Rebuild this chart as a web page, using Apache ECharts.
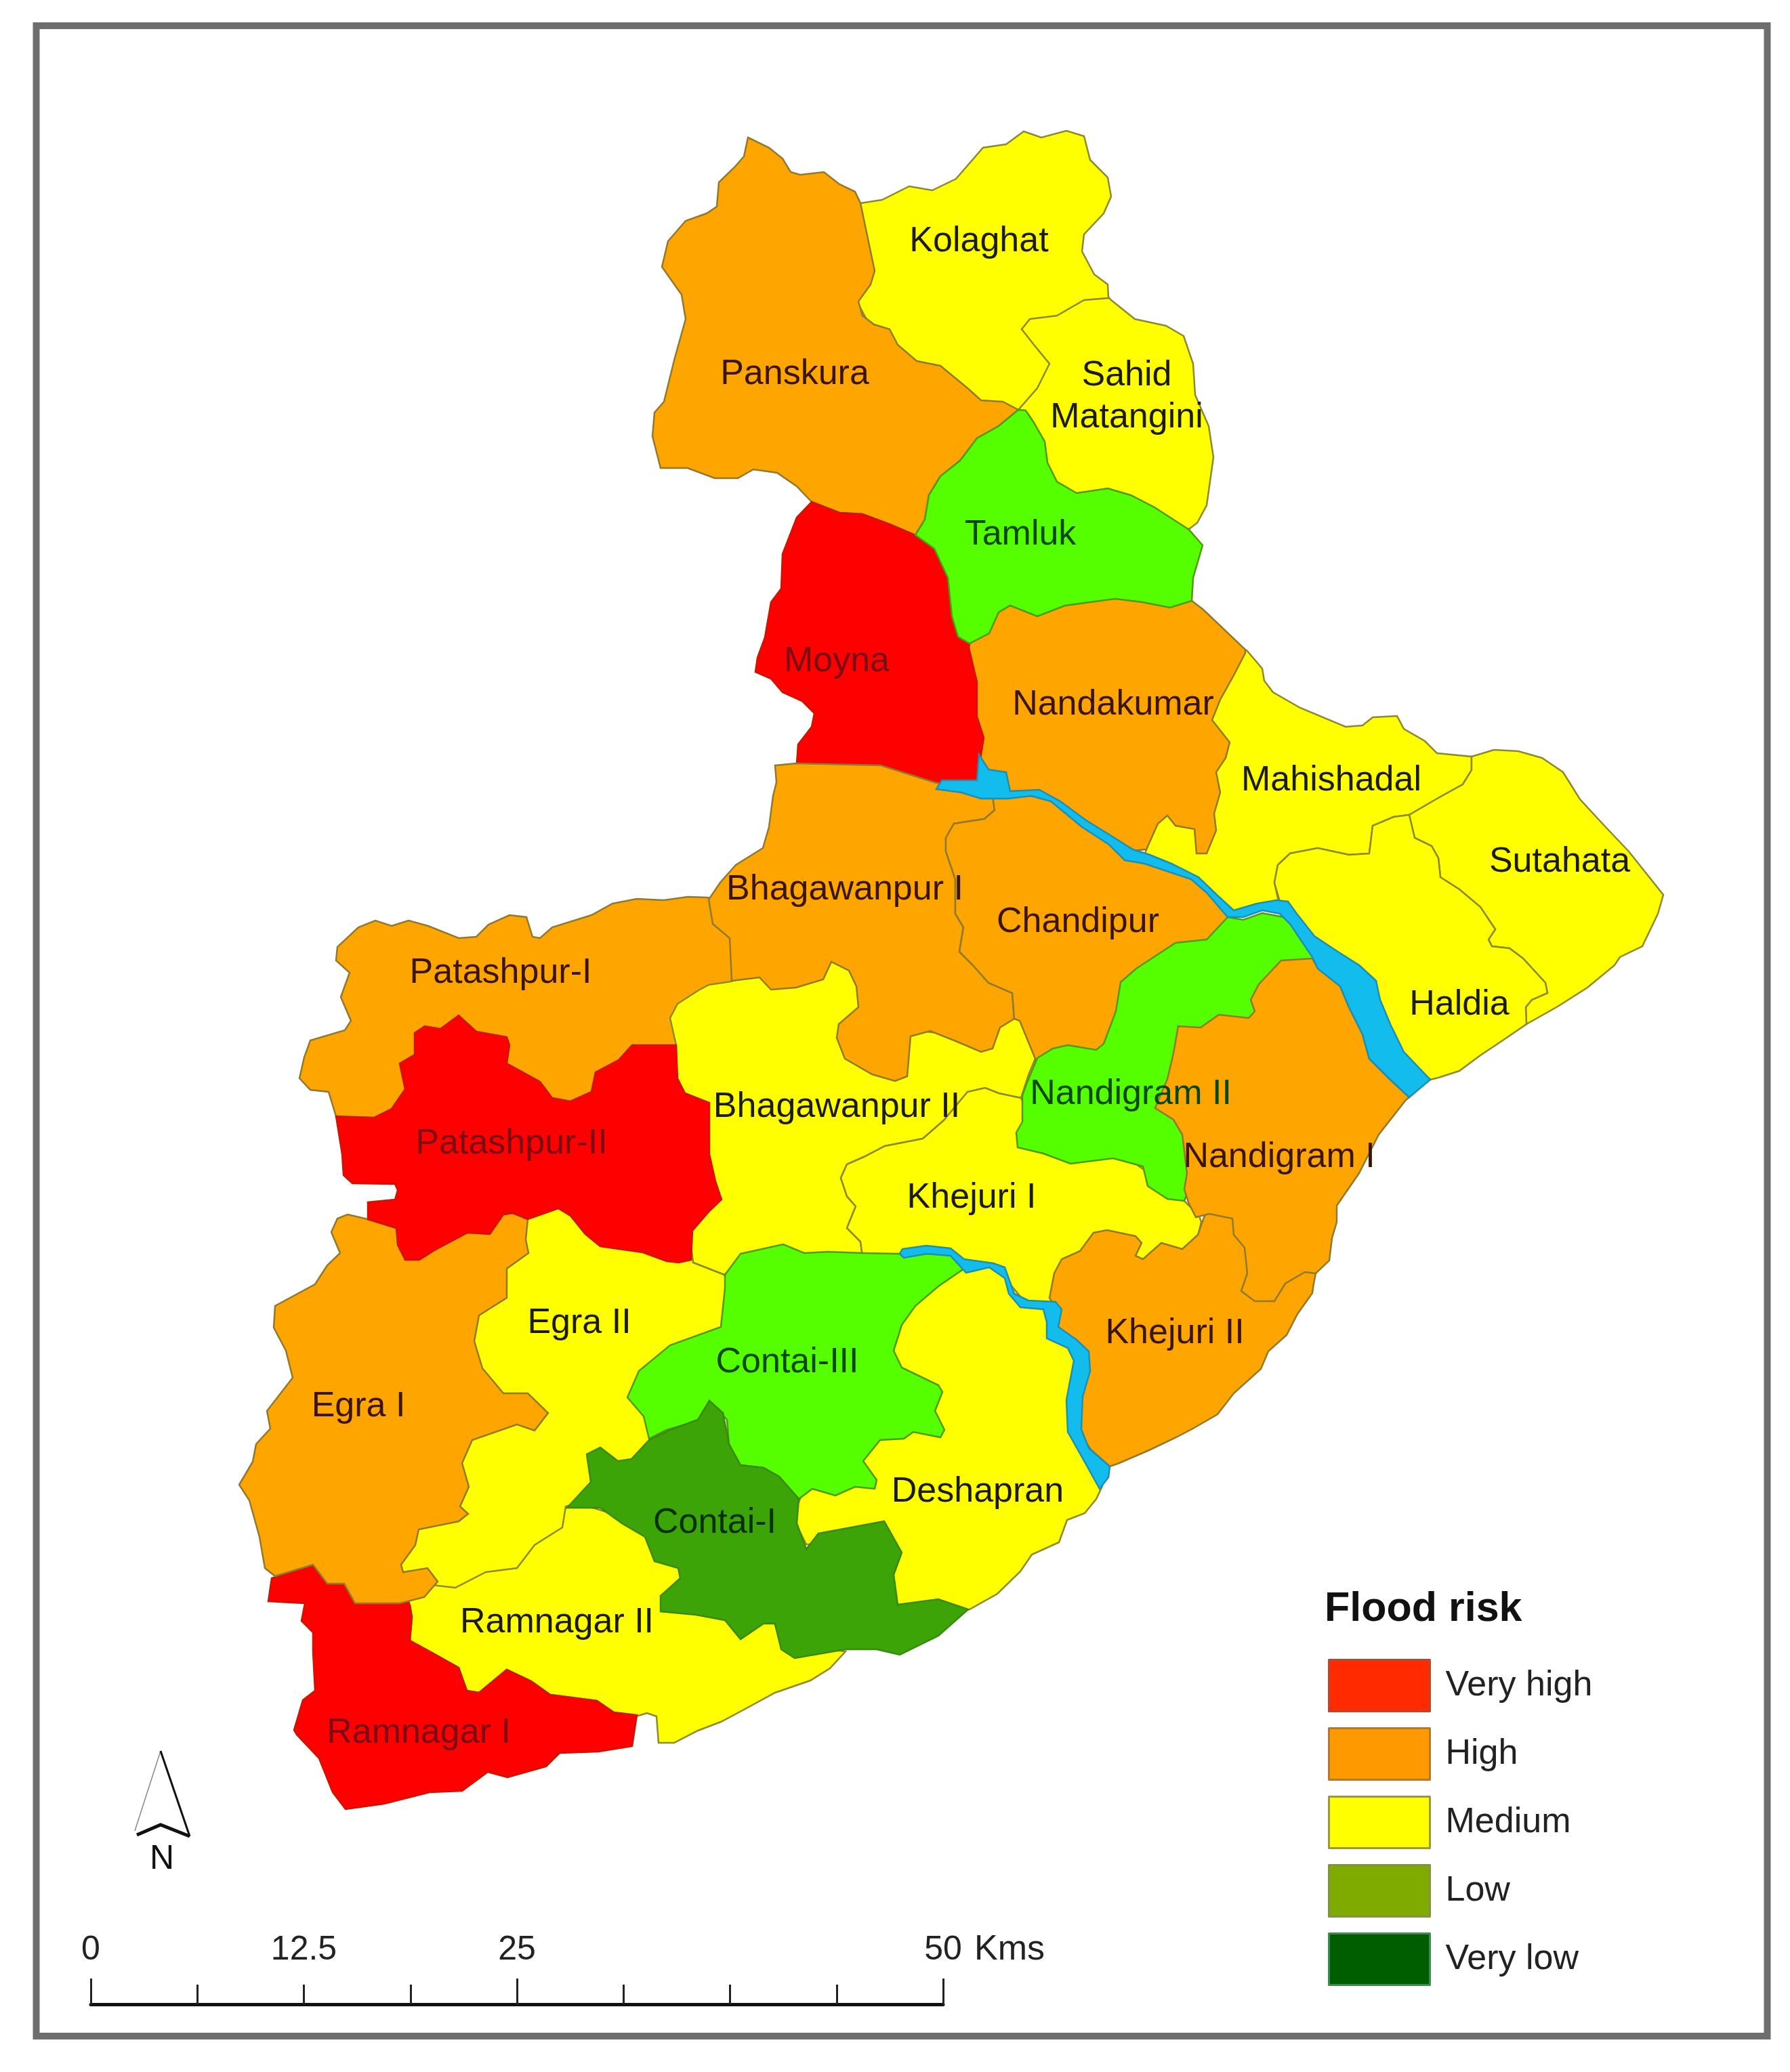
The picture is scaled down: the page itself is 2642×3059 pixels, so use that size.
<!DOCTYPE html>
<html>
<head>
<meta charset="utf-8">
<title>Flood risk</title>
<script src="https://cdn.jsdelivr.net/npm/echarts@6/dist/echarts.min.js"></script>
<style>
html,body{margin:0;padding:0;background:#fff}
#chart{width:2642px;height:3059px}
</style>
</head>
<body>
<div id="chart"></div>
<script>
// block outlines. later blocks are painted over earlier ones
var sahid = [[1640,443],[1675,471],[1721,481],[1747,496],[1761,537],[1764,583],[1784,629],[1791,675],[1781,746],[1767,772],[1755,781],[1700,770],[1600,750],[1530,690],[1490,600],[1500,490],[1550,440],[1620,420]];
var kolaghat = [[1270,300],[1302,295],[1342,275],[1376,281],[1411,264],[1451,218],[1485,213],[1511,194],[1537,203],[1574,193],[1600,201],[1609,236],[1635,262],[1640,290],[1629,315],[1600,346],[1597,371],[1615,405],[1635,420],[1636,440],[1600,443],[1560,466],[1520,471],[1508,486],[1526,509],[1549,537],[1531,573],[1503,605],[1470,610],[1380,560],[1300,510],[1262,440],[1280,400],[1270,345],[1265,300]];
var panskura = [[1104,203],[1135,218],[1155,234],[1167,254],[1181,258],[1216,254],[1239,272],[1262,283],[1270,300],[1279,343],[1291,400],[1285,420],[1267,445],[1273,466],[1290,479],[1313,486],[1325,509],[1353,533],[1388,540],[1428,573],[1448,591],[1480,593],[1503,605],[1474,629],[1442,647],[1417,680],[1388,703],[1371,731],[1365,767],[1351,790],[1313,774],[1273,759],[1239,757],[1198,741],[1176,718],[1147,698],[1112,693],[1089,706],[1055,706],[1015,691],[975,691],[963,644],[966,609],[980,593],[995,532],[1012,471],[1006,435],[977,394],[986,356],[1012,326],[1043,315],[1058,305],[1061,269],[1084,247],[1098,231]];
var mahishadal = [[1840,960],[1863,987],[1866,1005],[1879,1022],[1919,1045],[1986,1073],[2011,1071],[2026,1059],[2062,1057],[2072,1076],[2103,1094],[2121,1112],[2172,1117],[2172,1137],[2159,1158],[2123,1178],[2080,1203],[2057,1206],[2026,1219],[2021,1260],[1991,1262],[1945,1252],[1904,1260],[1886,1277],[1881,1303],[1889,1340],[1853,1345],[1812,1350],[1766,1310],[1700,1275],[1690,1260],[1730,1150],[1780,1050],[1810,965]];
var nandakumar = [[1750,880],[1776,900],[1838,959],[1838,964],[1821,997],[1801,1033],[1789,1063],[1815,1096],[1809,1119],[1795,1140],[1801,1170],[1792,1201],[1795,1226],[1781,1260],[1766,1260],[1763,1224],[1735,1219],[1723,1204],[1709,1216],[1692,1254],[1660,1257],[1603,1216],[1551,1178],[1499,1175],[1459,1155],[1430,1100],[1420,950],[1440,900],[1600,880]];
var moyna = [[1198,741],[1239,757],[1273,759],[1313,774],[1351,790],[1379,810],[1399,853],[1405,910],[1414,940],[1431,950],[1430,956],[1442,1007],[1442,1058],[1452,1089],[1448,1114],[1447,1155],[1379,1163],[1356,1160],[1336,1152],[1316,1158],[1293,1140],[1247,1135],[1235,1127],[1176,1127],[1178,1099],[1198,1073],[1202,1053],[1184,1035],[1155,1022],[1138,1002],[1115,992],[1118,971],[1129,941],[1138,889],[1153,869],[1155,818],[1176,764]];
var tamluk = [[1503,605],[1514,606],[1526,624],[1542,652],[1546,683],[1560,711],[1589,728],[1635,721],[1669,731],[1704,749],[1755,782],[1775,805],[1761,853],[1759,887],[1727,897],[1686,889],[1646,884],[1572,894],[1531,910],[1491,894],[1474,904],[1460,935],[1431,950],[1414,940],[1405,910],[1399,853],[1379,810],[1351,790],[1365,767],[1371,731],[1388,703],[1417,680],[1442,647],[1474,629]];
var sutahata = [[2172,1117],[2205,1107],[2241,1109],[2276,1119],[2307,1140],[2332,1180],[2368,1219],[2404,1257],[2455,1321],[2447,1349],[2424,1397],[2391,1413],[2383,1425],[2343,1458],[2299,1486],[2253,1512],[2252,1487],[2261,1476],[2284,1466],[2281,1451],[2248,1415],[2228,1400],[2202,1397],[2197,1387],[2207,1372],[2185,1339],[2154,1313],[2126,1295],[2123,1267],[2113,1249],[2088,1237],[2080,1203],[2123,1178],[2159,1158],[2172,1137]];
var haldia = [[2080,1203],[2088,1237],[2113,1249],[2123,1267],[2126,1295],[2154,1313],[2185,1339],[2207,1372],[2197,1387],[2202,1397],[2228,1400],[2248,1415],[2281,1451],[2284,1466],[2261,1476],[2252,1487],[2253,1512],[2215,1538],[2185,1558],[2154,1581],[2123,1591],[2111,1594],[2083,1568],[2057,1538],[2047,1507],[2034,1476],[2031,1448],[2006,1425],[1965,1400],[1935,1382],[1909,1349],[1889,1331],[1881,1303],[1886,1277],[1904,1260],[1945,1252],[1991,1262],[2021,1260],[2026,1219],[2057,1206]];
var patashpur1 = [[1044,1325],[1015,1324],[980,1329],[940,1327],[904,1334],[873,1351],[815,1369],[797,1385],[786,1383],[777,1354],[752,1351],[721,1365],[703,1383],[677,1385],[632,1367],[603,1359],[578,1367],[554,1359],[529,1369],[498,1398],[496,1418],[516,1436],[503,1472],[518,1507],[509,1521],[458,1536],[449,1561],[442,1592],[458,1609],[485,1612],[496,1648],[510,1670],[1000,1670],[1000,1545],[1040,1500],[1090,1445],[1090,1385],[1065,1364],[1060,1328]];
var bhagawanpur2 = [[998,1543],[989,1503],[1000,1482],[1031,1462],[1046,1454],[1079,1449],[1100,1440],[1220,1410],[1260,1420],[1280,1490],[1250,1540],[1320,1580],[1345,1520],[1420,1530],[1460,1530],[1490,1490],[1510,1500],[1540,1565],[1528,1563],[1518,1587],[1507,1621],[1474,1614],[1454,1606],[1428,1612],[1408,1636],[1393,1654],[1362,1681],[1306,1692],[1275,1708],[1250,1719],[1241,1739],[1250,1766],[1263,1781],[1250,1813],[1270,1833],[1273,1855],[1222,1855],[1173,1852],[1148,1848],[1100,1858],[1069,1882],[1023,1864],[1015,1800],[1020,1700],[995,1600]];
var bhagawanpur1 = [[1144,1130],[1175,1127],[1300,1130],[1379,1155],[1420,1165],[1465,1175],[1468,1196],[1453,1209],[1408,1216],[1396,1237],[1396,1257],[1410,1298],[1410,1349],[1422,1369],[1416,1405],[1436,1425],[1459,1451],[1494,1466],[1497,1504],[1476,1517],[1465,1548],[1448,1553],[1413,1538],[1373,1522],[1344,1530],[1339,1589],[1321,1596],[1287,1586],[1247,1563],[1235,1532],[1238,1512],[1267,1487],[1264,1456],[1253,1433],[1227,1420],[1215,1446],[1175,1458],[1138,1461],[1121,1443],[1080,1448],[1077,1385],[1052,1364],[1046,1328],[1063,1303],[1086,1277],[1126,1252],[1135,1221],[1141,1175],[1146,1155]];
var chandipur = [[1465,1175],[1468,1196],[1453,1209],[1408,1216],[1396,1237],[1396,1257],[1410,1298],[1410,1349],[1422,1369],[1416,1405],[1436,1425],[1459,1451],[1494,1466],[1497,1504],[1505,1507],[1528,1563],[1528,1570],[1640,1560],[1670,1470],[1690,1440],[1740,1400],[1785,1395],[1815,1354],[1763,1295],[1690,1268],[1640,1240],[1600,1216],[1551,1178],[1490,1172]];
var khejuri1 = [[1507,1621],[1474,1614],[1454,1606],[1428,1612],[1408,1636],[1393,1654],[1362,1681],[1306,1692],[1275,1708],[1250,1719],[1241,1739],[1250,1766],[1263,1781],[1250,1813],[1270,1833],[1273,1855],[1330,1855],[1367,1845],[1403,1850],[1423,1865],[1466,1870],[1490,1895],[1515,1925],[1565,1925],[1576,1870],[1609,1850],[1620,1830],[1650,1835],[1660,1860],[1686,1870],[1714,1855],[1760,1860],[1773,1804],[1770,1795],[1760,1785],[1735,1760],[1700,1735],[1643,1695],[1581,1700],[1520,1690],[1520,1650]];
var nandigram2 = [[1812,1354],[1781,1387],[1735,1392],[1677,1430],[1654,1450],[1647,1493],[1629,1541],[1618,1550],[1576,1543],[1554,1548],[1531,1562],[1516,1598],[1509,1617],[1509,1656],[1500,1672],[1502,1694],[1540,1703],[1580,1718],[1643,1710],[1687,1722],[1694,1751],[1723,1770],[1748,1773],[1760,1740],[1760,1680],[1740,1640],[1720,1630],[1740,1580],[1750,1525],[1800,1510],[1850,1510],[1860,1480],[1870,1450],[1900,1425],[1940,1420],[1937,1400],[1900,1355],[1863,1348],[1835,1358]];
var khejuri2 = [[1549,1916],[1556,1880],[1567,1859],[1594,1847],[1614,1820],[1634,1816],[1676,1825],[1685,1835],[1676,1854],[1687,1859],[1714,1835],[1745,1844],[1768,1823],[1777,1797],[1785,1785],[1830,1790],[1850,1850],[1850,1900],[1870,1915],[1900,1880],[1926,1870],[1945,1872],[1942,1880],[1939,1895],[1937,1909],[1915,1940],[1899,1971],[1872,1995],[1861,2021],[1821,2057],[1797,2088],[1759,2110],[1736,2122],[1696,2141],[1652,2160],[1638,2165],[1610,2140],[1590,2110],[1590,2060],[1600,2010],[1585,1985],[1555,1965],[1560,1935]];
var nandigram1 = [[1858,1453],[1891,1418],[1937,1415],[1945,1430],[1978,1456],[1991,1487],[2011,1527],[2021,1563],[2052,1594],[2080,1620],[2075,1624],[2035,1675],[2006,1732],[1973,1780],[1973,1804],[1966,1828],[1962,1861],[1942,1880],[1926,1878],[1897,1895],[1881,1921],[1852,1921],[1832,1906],[1841,1880],[1837,1842],[1821,1823],[1819,1799],[1785,1792],[1765,1797],[1754,1775],[1748,1756],[1752,1732],[1745,1675],[1732,1653],[1705,1636],[1723,1593],[1732,1555],[1739,1515],[1772,1517],[1799,1498],[1843,1503],[1852,1493],[1846,1476]];
var ramnagar2 = [[605,2370],[608,2387],[605,2422],[636,2439],[677,2462],[689,2496],[707,2499],[748,2465],[784,2482],[812,2502],[881,2511],[906,2528],[939,2534],[955,2529],[969,2534],[972,2573],[995,2573],[1030,2555],[1064,2542],[1098,2524],[1144,2499],[1196,2481],[1225,2463],[1248,2438],[1173,2430],[1150,2420],[1140,2385],[1125,2385],[1090,2400],[1030,2370],[1010,2340],[1015,2315],[975,2295],[960,2262],[920,2240],[840,2215],[760,2300],[640,2330],[600,2350]];
var ramnagar1 = [[401,2330],[462,2310],[480,2330],[508,2330],[524,2360],[600,2360],[605,2370],[608,2387],[605,2422],[636,2439],[677,2462],[689,2496],[707,2499],[748,2465],[784,2482],[812,2502],[881,2511],[906,2528],[940,2532],[933,2578],[883,2586],[826,2588],[806,2608],[749,2624],[720,2616],[682,2644],[634,2646],[567,2663],[510,2671],[491,2646],[471,2596],[438,2561],[434,2554],[447,2510],[465,2496],[462,2439],[462,2410],[445,2393],[450,2367],[396,2364]];
var egra2 = [[779,1790],[824,1770],[860,1800],[890,1830],[950,1840],[1020,1850],[1023,1864],[1069,1882],[1080,1905],[1075,1970],[1000,1995],[960,2020],[940,2054],[955,2089],[965,2130],[930,2170],[870,2215],[835,2224],[830,2255],[789,2281],[763,2315],[717,2321],[672,2344],[646,2341],[610,2335],[585,2315],[600,2270],[660,2200],[660,2120],[690,2000],[695,1940],[730,1900],[760,1840]];
var egra1 = [[513,1793],[543,1800],[590,1815],[620,1840],[690,1805],[720,1805],[743,1793],[757,1791],[779,1800],[776,1830],[780,1850],[748,1873],[748,1916],[707,1942],[700,1980],[712,2020],[743,2057],[779,2057],[809,2086],[789,2112],[763,2103],[697,2126],[682,2160],[692,2195],[679,2224],[691,2235],[677,2246],[618,2258],[613,2281],[592,2310],[595,2321],[631,2315],[646,2335],[626,2358],[590,2367],[524,2367],[508,2338],[483,2338],[462,2310],[406,2327],[391,2315],[383,2269],[368,2215],[353,2192],[373,2158],[378,2132],[399,2109],[394,2083],[432,2034],[422,1994],[404,1960],[406,1928],[465,1896],[483,1868],[502,1850],[489,1819],[498,1799]];
var patashpur2 = [[496,1648],[552,1650],[578,1637],[598,1608],[590,1570],[612,1557],[612,1525],[627,1515],[650,1519],[677,1499],[703,1523],[748,1531],[752,1543],[748,1570],[797,1597],[815,1621],[842,1626],[873,1612],[879,1583],[913,1565],[933,1543],[998,1543],[1000,1592],[1011,1614],[1047,1628],[1047,1704],[1056,1744],[1065,1771],[1047,1788],[1022,1817],[1020,1860],[1002,1864],[984,1862],[949,1849],[886,1840],[864,1822],[842,1795],[824,1784],[779,1800],[757,1791],[743,1793],[723,1822],[690,1820],[641,1846],[619,1860],[598,1860],[587,1838],[585,1813],[543,1800],[543,1775],[583,1771],[587,1757],[583,1748],[520,1747],[507,1735],[505,1704]];
var deshapran = [[1417,1877],[1430,1870],[1470,1870],[1490,1895],[1515,1925],[1555,1925],[1555,1970],[1590,1995],[1590,2060],[1585,2110],[1605,2155],[1627,2194],[1618,2213],[1601,2234],[1575,2244],[1563,2277],[1523,2295],[1506,2320],[1472,2353],[1431,2376],[1385,2385],[1310,2380],[1300,2300],[1300,2260],[1200,2280],[1190,2280],[1170,2240],[1180,2215],[1190,2190],[1270,2180],[1265,2120],[1330,2110],[1375,2100],[1375,2050],[1320,2025],[1310,1994],[1325,1950],[1345,1925],[1380,1895]];
var contai3 = [[1093,1851],[1156,1837],[1187,1850],[1222,1848],[1274,1850],[1328,1851],[1368,1845],[1403,1848],[1426,1870],[1417,1877],[1385,1899],[1351,1928],[1331,1956],[1319,1994],[1331,2019],[1385,2045],[1391,2055],[1380,2083],[1394,2111],[1388,2122],[1348,2114],[1334,2124],[1299,2126],[1274,2157],[1294,2185],[1291,2198],[1262,2195],[1233,2208],[1199,2198],[1179,2213],[1150,2180],[1127,2167],[1093,2163],[1076,2132],[1073,2096],[1047,2068],[1030,2098],[984,2111],[958,2124],[950,2091],[926,2063],[943,2024],[989,1986],[1064,1959],[1070,1902],[1070,1882]];
var contai1 = [[1047,2068],[1067,2086],[1076,2132],[1093,2163],[1127,2167],[1150,2180],[1179,2213],[1176,2249],[1190,2287],[1208,2264],[1305,2246],[1331,2292],[1319,2325],[1325,2369],[1385,2361],[1429,2376],[1385,2415],[1328,2443],[1294,2435],[1248,2435],[1173,2448],[1153,2435],[1144,2397],[1127,2397],[1093,2420],[1070,2392],[1027,2384],[975,2379],[975,2356],[1004,2330],[1001,2315],[966,2305],[952,2269],[918,2249],[886,2226],[837,2226],[872,2188],[866,2147],[886,2137],[912,2157],[932,2154],[958,2126],[989,2111],[1030,2096]];
var riverHaldi = [[1445,1114],[1459,1136],[1485,1140],[1491,1168],[1534,1166],[1565,1183],[1603,1211],[1637,1232],[1672,1254],[1697,1262],[1729,1275],[1769,1295],[1798,1323],[1821,1344],[1855,1334],[1884,1329],[1901,1331],[1914,1349],[1940,1382],[1970,1402],[2006,1425],[2031,1448],[2037,1476],[2052,1512],[2072,1553],[2111,1594],[2080,1620],[2052,1594],[2021,1563],[2011,1527],[1991,1487],[1978,1456],[1945,1430],[1937,1413],[1904,1364],[1889,1349],[1863,1344],[1835,1354],[1812,1354],[1781,1318],[1758,1298],[1689,1275],[1660,1270],[1637,1247],[1597,1221],[1551,1183],[1522,1175],[1488,1179],[1448,1179],[1419,1170],[1382,1165],[1390,1152],[1442,1152]];
var riverRasulpur = [[1332,1844],[1367,1839],[1403,1843],[1423,1859],[1466,1865],[1483,1871],[1497,1910],[1518,1920],[1558,1922],[1567,1933],[1562,1959],[1589,1978],[1607,1995],[1609,2024],[1598,2062],[1596,2110],[1607,2138],[1638,2165],[1636,2181],[1623,2198],[1598,2153],[1576,2114],[1574,2067],[1585,2009],[1576,1990],[1545,1976],[1545,1952],[1540,1933],[1506,1930],[1489,1910],[1483,1887],[1460,1871],[1426,1879],[1403,1854],[1368,1851],[1334,1857],[1328,1851]];

var blockNames = ['Sahid Matangini','Kolaghat','Panskura','Mahishadal','Nandakumar','Moyna','Tamluk','Sutahata','Haldia','Patashpur-I','Bhagawanpur II','Bhagawanpur I','Chandipur','Khejuri I','Nandigram II','Khejuri II','Nandigram I','Ramnagar II','Ramnagar I','Egra II','Egra I','Patashpur-II','Deshapran','Contai-III','Contai-I'];
var blockOutlines = [sahid,kolaghat,panskura,mahishadal,nandakumar,moyna,tamluk,sutahata,haldia,patashpur1,bhagawanpur2,bhagawanpur1,chandipur,khejuri1,nandigram2,khejuri2,nandigram1,ramnagar2,ramnagar1,egra2,egra1,patashpur2,deshapran,contai3,contai1];
var blockRisk = ['Medium','Medium','High','Medium','High','Very high','Low','Medium','Medium','High','Medium','High','High','Medium','Low','High','High','Medium','Very high','Medium','High','Very high','Medium','Low','Very low'];
var blockLabelAt = [[1663,583],[1445,354],[1173,550],[1965,1150],[1643,1038],[1235,974],[1506,787],[2302,1270],[2154,1481],[739,1434],[1235,1632],[1247,1311],[1591,1359],[1434,1766],[1669,1613],[1734,1966],[1888,1706],[822,2393],[618,2556],[855,1951],[529,2074],[755,1686],[1443,2200],[1162,2009],[1055,2246]];
var riverNames = ['Haldi river','Rasulpur river'];
var riverOutlines = [riverHaldi,riverRasulpur];

var riskLevels = ['Very high','High','Medium','Low','Very low'];
var mapColors = ['#ff0000','#ffa500','#ffff00','#55ff00','#3ca406'];
var mapBorders = ['#cc1500','#8f7a30','#8c8a30','#4f9a10','#3a8a10'];
var labelColors = ['#7a0a14','#3a1500','#1c1c00','#05480a','#05300a'];
var legendColors = ['#ff2a00','#ff9900','#ffff00','#7fab00','#005e00'];
var legendBorders = ['#b5482f','#b07a30','#98983c','#7f9440','#3f8a50'];
var scaleLabels = [0,12.5,25,50];
var scaleMajor = [0,25,50];

var FONT = 'Liberation Sans';

// same numbers are used as pixels, y goes down
function flat(p){ return [p[0],p[1]]; }

var features = [];
var mapData = [];
var minX = 1e9, minY = 1e9, maxX = -1e9, maxY = -1e9;

function addFeature(name,outline,cp){
	var props = {name:name};
	if(cp) props.cp = cp;
	features.push({type:'Feature',properties:props,geometry:{type:'Polygon',coordinates:[outline.concat([outline[0]])]}});
	outline.forEach(function(p){
		minX = Math.min(minX,p[0]); maxX = Math.max(maxX,p[0]);
		minY = Math.min(minY,p[1]); maxY = Math.max(maxY,p[1]);
	});
}

var counts = [0,0,0,0,0];
blockNames.forEach(function(name,i){
	var lv = riskLevels.indexOf(blockRisk[i]);
	counts[lv]++;
	addFeature(name,blockOutlines[i],blockLabelAt[i]);
	mapData.push({
		name:name,
		value:5-lv,
		itemStyle:{areaColor:mapColors[lv],borderColor:mapBorders[lv]},
		label:{show:true,color:labelColors[lv],formatter:name=='Sahid Matangini'?'Sahid\nMatangini':name}
	});
});
riverNames.forEach(function(name,i){
	addFeature(name,riverOutlines[i]);
	mapData.push({name:name,itemStyle:{areaColor:'#12bdee',borderColor:'#1f8fb0'},label:{show:false}});
});

echarts.registerMap('tamluk',{type:'FeatureCollection',features:features});

var myChart = echarts.init(document.getElementById('chart'));
myChart.setOption({
	backgroundColor:'#fff',
	animation:false,
	title:{
		text:'Flood risk',left:1955,top:2346,padding:0,
		textStyle:{fontFamily:FONT,fontSize:61,fontWeight:'bold',color:'#111'}
	},
	legend:{
		orient:'vertical',left:1960,top:2449,padding:0,
		itemWidth:149,itemHeight:76,itemGap:22,
		selectedMode:false,
		textStyle:{fontFamily:FONT,fontSize:52,color:'#222',padding:[6,0,0,18]},
		data:riskLevels.map(function(name,i){
			return {name:name,icon:'rect',itemStyle:{color:legendColors[i],borderColor:legendBorders[i],borderWidth:3}};
		})
	},
	grid:{left:134,top:2959,width:1258,height:1,containLabel:false},
	xAxis:[{
		type:'value',position:'top',min:0,max:50,interval:6.25,
		axisLine:{show:true,onZero:false,lineStyle:{color:'#111',width:5}},
		axisTick:{show:true,length:29,lineStyle:{color:'#222',width:3}},
		splitLine:{show:false},
		axisLabel:{
			show:true,customValues:scaleLabels,margin:55,
			fontFamily:FONT,fontSize:50,color:'#222',
			showMinLabel:true,showMaxLabel:true,hideOverlap:false
		}
	},{
		type:'value',position:'top',min:0,max:50,interval:25,
		axisLine:{show:false},
		axisTick:{show:true,customValues:scaleMajor,length:39,lineStyle:{color:'#222',width:3}},
		axisLabel:{show:false},
		splitLine:{show:false}
	}],
	yAxis:{type:'value',show:false,min:0,max:1},
	graphic:[
		{type:'rect',silent:true,z:-1,shape:{x:53.5,y:38,width:2555,height:2968},style:{fill:null,stroke:'#6e6e6e',lineWidth:10}},
		{type:'text',silent:true,style:{x:1438,y:2853,text:'Kms',fontFamily:FONT,fontSize:52,fill:'#222'}},
		{type:'line',silent:true,shape:{x1:237,y1:2585,x2:199,y2:2703},style:{stroke:'#888',lineWidth:1.5}},
		{type:'line',silent:true,shape:{x1:237,y1:2585,x2:280,y2:2711},style:{stroke:'#111',lineWidth:3}},
		{type:'polyline',silent:true,shape:{points:[[202,2709],[237,2694],[280,2711]]},style:{stroke:'#111',lineWidth:5,fill:null}},
		{type:'text',silent:true,style:{x:239,y:2745,text:'N',align:'center',verticalAlign:'middle',fontFamily:FONT,fontSize:50,fill:'#111'}}
	],
	series:[{
		type:'map',
		map:'tamluk',
		projection:{project:flat,unproject:flat},
		aspectScale:1,
		roam:false,
		silent:true,
		showLegendSymbol:false,
		left:minX,top:minY,width:maxX-minX,height:maxY-minY,
		selectedMode:false,
		itemStyle:{borderWidth:2.5},
		label:{show:true,fontFamily:FONT,fontSize:52,lineHeight:62,offset:[0,3]},
		emphasis:{disabled:true},
		data:mapData
	},{
		// only here so the legend has its five classes
		type:'pie',
		radius:[0,0],
		center:[2300,2600],
		silent:true,
		label:{show:false},
		labelLine:{show:false},
		data:riskLevels.map(function(name,i){
			return {name:name,value:counts[i],itemStyle:{color:legendColors[i]}};
		})
	}]
});
</script>
</body>
</html>
